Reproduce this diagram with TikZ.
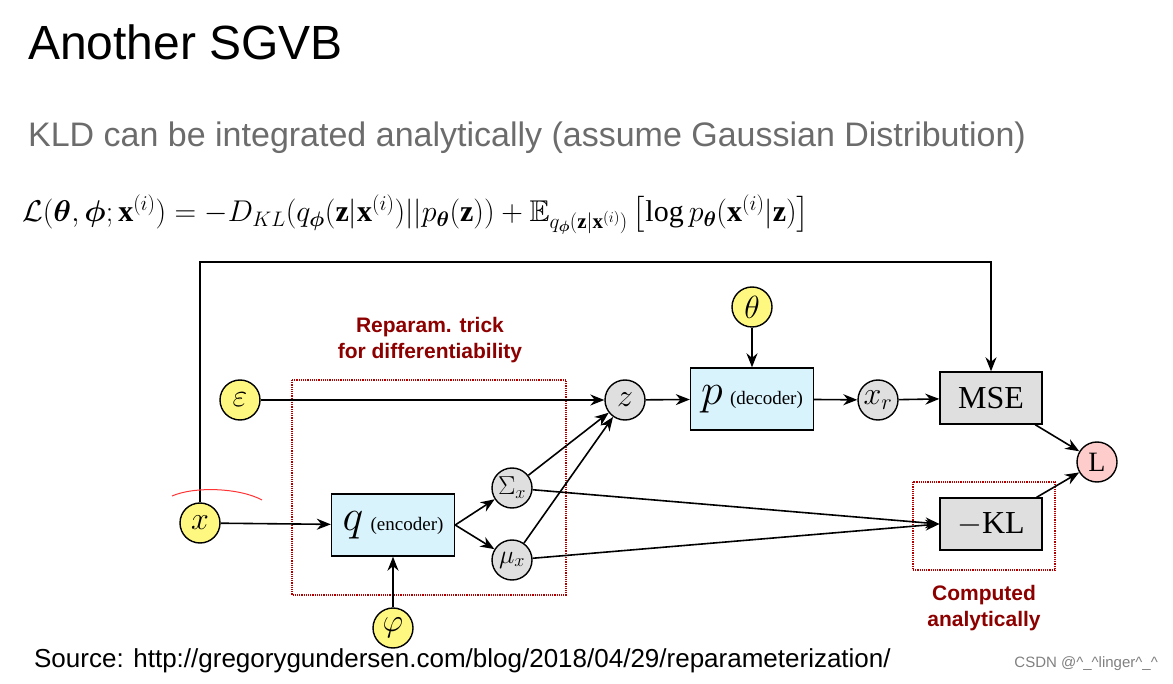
\documentclass[tikz,border=0pt]{standalone}
\usepackage{fix-cm}
\usepackage{amsmath,amssymb,bm}
\usepackage{fontspec}
\setmainfont{Liberation Serif}
\newfontfamily\sans{Liberation Sans}
\usetikzlibrary{arrows.meta}
\begin{document}
\begin{tikzpicture}[x=1pt,y=-1pt,line width=1.6pt,
  var/.style={circle,draw,line width=1.4pt,minimum size=40pt,inner sep=0pt,font=\fontsize{32}{32}\selectfont},
  yel/.style={var,fill=yellow!50},
  gry/.style={var,fill=gray!25},
  box/.style={draw,line width=1.4pt,fill=cyan!15,minimum width=123pt,minimum height=62pt,inner sep=0pt},
  gbox/.style={draw,line width=1.4pt,fill=gray!25,minimum width=102pt,minimum height=52pt,font=\fontsize{32}{32}\selectfont},
  arr/.style={-{Stealth[length=14pt,width=11pt]}},
  note/.style={text=red!55!black,font=\sans\bfseries\fontsize{21}{26}\selectfont,align=center},
  dots/.style={draw=red!70!black,densely dotted,line width=1.2pt}]
\useasboundingbox (0,0) rectangle (1173,684);
\node[anchor=west,font=\sans\fontsize{48}{48}\selectfont] (title) at (24,42) {Another SGVB};
\node[anchor=west,text=gray!85!black,font=\sans\fontsize{34}{34}\selectfont] (sub) at (24,138) {KLD can be integrated analytically (assume Gaussian Distribution)};
\node[anchor=west,font=\fontsize{30}{30}\selectfont] (eq) at (18,215)
  {$\mathcal{L}(\bm{\theta},\bm{\phi};\mathbf{x}^{(i)})=-D_{KL}(q_{\bm{\phi}}(\mathbf{z}|\mathbf{x}^{(i)})||p_{\bm{\theta}}(\mathbf{z}))+\mathbb{E}_{q_{\bm{\phi}}(\mathbf{z}|\mathbf{x}^{(i)})}\left[\log p_{\bm{\theta}}(\mathbf{x}^{(i)}|\mathbf{z})\right]$};

\draw[dots] (292,380) rectangle (566,595);
\draw[dots] (913,482) rectangle (1055,570);
\node[note] (rp) at (430,340) {Reparam. trick\\for differentiability};
\node[note] (ca) at (984,608) {Computed\\analytically};

\node[yel] (x) at (200,523) {$x$};
\node[yel] (eps) at (240,400) {$\varepsilon$};
\node[yel] (phi) at (393,628) {$\varphi$};
\node[yel] (th) at (752,307) {$\theta$};
\node[box] (q) at (393,525) {\fontsize{44}{44}\selectfont$q$\,\fontsize{19}{19}\selectfont(encoder)};
\node[box] (p) at (752,399) {\fontsize{44}{44}\selectfont$p$\,\fontsize{19}{19}\selectfont(decoder)};
\node[gry] (sig) at (512,488) {\fontsize{26}{26}\selectfont$\Sigma_x$};
\node[gry] (mu) at (512,560) {\fontsize{26}{26}\selectfont$\mu_x$};
\node[gry] (z) at (625,400) {$z$};
\node[gry] (xr) at (878,400) {$x_r$};
\node[gbox] (mse) at (991,398) {MSE};
\node[gbox] (kl) at (991,524) {$-$KL};
\node[var,fill=red!20] (L) at (1097,462) {\fontsize{28}{28}\selectfont L};

\draw[arr] (x.north) |- (200,262) -| (mse.north);
\draw[arr] (x) -- (q);
\draw[arr] (eps) -- (z);
\draw[arr] (phi) -- (q);
\draw[arr] (q.east) -- (sig);
\draw[arr] (q.east) -- (mu);
\draw[arr] (sig) -- (z);
\draw[arr] (mu) -- (z);
\draw[arr] (sig) -- (kl.west);
\draw[arr] (mu) -- (kl.west);
\draw[arr] (z) -- (p);
\draw[arr] (th) -- (p);
\draw[arr] (p) -- (xr);
\draw[arr] (xr) -- (mse);
\draw[arr] (mse) -- (L);
\draw[arr] (kl) -- (L);
\draw[red!80,line width=1pt] (172,496) .. controls (195,486) and (240,488) .. (262,500);

\node[anchor=west,font=\sans\fontsize{26}{26}\selectfont] (src) at (30,661) {Source: http://gregorygundersen.com/blog/2018/04/29/reparameterization/};
\node[anchor=east,text=gray,font=\sans\fontsize{15}{15}\selectfont] (wm) at (1162,664) {CSDN @\^{}\_\^{}linger\^{}\_\^{}};
\end{tikzpicture}
\end{document}
